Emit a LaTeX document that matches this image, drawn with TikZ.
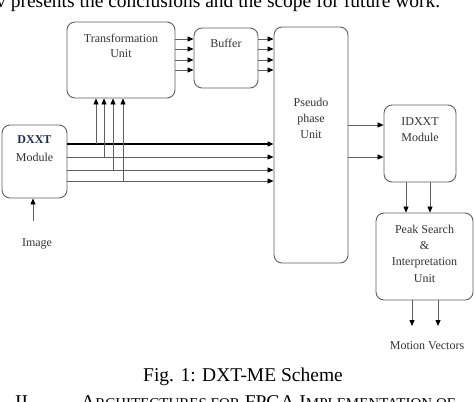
\documentclass[tikz,border=0pt]{standalone}
\usepackage{fontspec}
\setmainfont{Liberation Serif}
\usetikzlibrary{arrows.meta}
\definecolor{linegray}{RGB}{95,95,95}
\definecolor{dxblue}{RGB}{30,45,80}
\tikzset{
  blk/.style={draw=linegray, line width=0.9bp, rounded corners=8bp, inner sep=0pt, fill=white},
  lbl/.style={font=\fontsize{12bp}{15.5bp}\selectfont, text=black!80, align=center, inner sep=0pt},
  arr/.style={draw=linegray, line width=0.8bp, -{Triangle[length=6bp,width=5bp,color=black]}},
  big/.style={inner sep=0pt, font=\fontsize{19.5bp}{22bp}\selectfont},
}
\begin{document}
\begin{tikzpicture}[x=1bp,y=-1bp]
\useasboundingbox (0,0) rectangle (474,401);
\clip (0,0) rectangle (474,401);
% surrounding page text
\node[big, anchor=base west] (toptext) at (-4,7) {v presents the conclusions and the scope for future work.};
\node[big, anchor=base] (caption) at (243,381) {Fig. 1: DXT-ME Scheme};
\node[big, anchor=base west] (sect) at (15,408) {II.};
\node[big, anchor=base west] (secttitle) at (81,408) {A{\fontsize{15bp}{18bp}\selectfont RCHITECTURES FOR} FPGA I{\fontsize{15bp}{18bp}\selectfont MPLEMENTATION OF}};
% blocks (labels: anchor base = baseline of last line)
\node[blk, minimum width=108bp, minimum height=76bp] (T) at (121,60) {};
\node[lbl, anchor=base] (Tl) at (121,57.5) {Transformation\\Unit};
\node[blk, minimum width=64bp, minimum height=60bp] (B) at (226,58) {};
\node[lbl, anchor=base] (Bl) at (226,47) {Buffer};
\node[blk, minimum width=74bp, minimum height=236bp] (P) at (311,145) {};
\node[lbl, anchor=base, font=\fontsize{12bp}{16bp}\selectfont] (Pl) at (311,138) {Pseudo\\phase\\Unit};
\node[blk, minimum width=72bp, minimum height=77bp] (I) at (420,143.5) {};
\node[lbl, anchor=base, font=\fontsize{12bp}{16bp}\selectfont] (Il) at (420,141) {IDXXT\\Module};
\node[blk, minimum width=97bp, minimum height=87bp] (K) at (424.5,256.5) {};
\node[lbl, anchor=base, font=\fontsize{12bp}{16.3bp}\selectfont] (Kl) at (424.5,282) {Peak Search\\\&\\Interpretation\\Unit};
\node[blk, minimum width=65bp, minimum height=73bp] (D) at (34.5,161.5) {};
\node[lbl, anchor=base, font=\fontsize{12bp}{18bp}\selectfont] (Dl) at (34.5,161) {\textcolor{dxblue}{\textbf{DXXT}}\\Module};
\node[lbl, anchor=base] (img) at (37,246) {Image};
\node[lbl, anchor=base] (mv) at (427,349) {Motion Vectors};
\coordinate (imgtop) at (33,221);
\coordinate (mv1) at (412,326);
\coordinate (mv2) at (438,326);
% DXXT outputs
\draw[arr, draw=black, line width=1.4bp] (D.east |- 0,144) -- (P.west |- 0,144);
\foreach \yy in {157,170,181}{
  \draw[arr] (D.east |- 0,\yy) -- (P.west |- 0,\yy);
}
% vertical taps to Transformation unit
\draw[arr] (96,144) -- (T.south -| 96,0);
\draw[arr] (104,157) -- (T.south -| 104,0);
\draw[arr] (113,170) -- (T.south -| 113,0);
\draw[arr] (123,181) -- (T.south -| 123,0);
% T -> Buffer -> Pseudo
\foreach \yy in {39,49,60,70}{
  \draw[arr] (T.east |- 0,\yy) -- (B.west |- 0,\yy);
  \draw[arr] (B.east |- 0,\yy) -- (P.west |- 0,\yy);
}
% Pseudo -> IDXXT
\draw[arr] (P.east |- 0,125) -- (I.west |- 0,125);
\draw[arr] (P.east |- 0,157) -- (I.west |- 0,157);
% IDXXT -> Peak
\draw[arr] (I.south -| 406,0) -- (K.north -| 406,0);
\draw[arr] (I.south -| 430,0) -- (K.north -| 430,0);
% Peak -> motion vectors
\draw[arr] (K.south -| mv1) -- (mv1);
\draw[arr] (K.south -| mv2) -- (mv2);
% Image -> DXXT
\draw[arr] (imgtop) -- (D.south -| imgtop);
\end{tikzpicture}
\end{document}
